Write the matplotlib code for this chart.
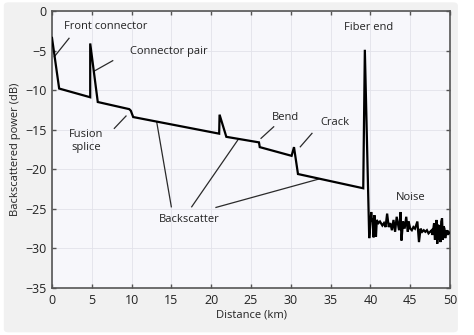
import matplotlib
matplotlib.use("Agg")
import matplotlib.pyplot as plt
from matplotlib.patches import FancyBboxPatch

plt.rcParams['font.family'] = ['Open Sans', 'DejaVu Sans']

# OTDR trace: distance (km) and backscattered power (dB)
trace_km = [0.0, 0.9, 4.8, 4.8, 5.75, 9.7, 9.9, 10.2, 21.0, 21.05, 21.9,
            26.0, 26.1, 30.1, 30.4, 30.9, 39.1, 39.3, 39.85]
trace_db = [-3.4, -9.8, -10.9, -4.1, -11.5, -12.4, -12.6, -13.4, -15.5, -13.1, -15.9,
            -16.6, -17.2, -18.3, -17.2, -20.6, -22.4, -4.9, -28.7]

# noise floor after the fiber end
noise_km = [40.0, 40.1, 40.2, 40.3, 40.4, 40.5, 40.6, 40.7, 40.8, 41.0, 41.2,
            41.5, 41.7, 41.9, 42.1, 42.3, 42.5, 42.7, 42.9, 43.1, 43.3, 43.6,
            43.8, 43.9, 44.1, 44.3, 44.5, 44.7, 44.8, 45.0, 45.2, 45.4, 45.6,
            45.9, 46.1, 46.3, 46.5, 46.7, 46.9, 47.1, 47.3, 47.5, 47.7, 47.8,
            48.0, 48.1, 48.2, 48.3, 48.4, 48.5, 48.6, 48.7, 48.8, 48.9, 49.0,
            49.1, 49.2, 49.3, 49.4, 49.5, 49.6, 49.7, 49.8, 50.0]
noise_db = [-27.0, -25.4, -26.6, -26.2, -28.6, -25.8, -27.0, -28.5, -26.4, -26.8, -26.6,
            -27.1, -26.8, -27.3, -25.6, -27.3, -26.8, -27.7, -26.4, -27.9, -26.0, -27.7,
            -25.4, -29.0, -26.6, -27.5, -26.0, -27.9, -26.6, -27.5, -27.7, -27.3, -27.5,
            -26.6, -29.2, -27.5, -27.9, -27.7, -27.9, -27.7, -28.1, -27.9, -27.7, -28.3,
            -26.8, -28.9, -28.5, -26.4, -29.4, -27.0, -28.9, -27.1, -29.2, -26.6, -26.2,
            -28.9, -27.2, -27.5, -28.7, -28.0, -27.7, -28.3, -27.9, -28.1]

# callout labels: text, position (km, dB), alignment
labels = ["Front connector", "Connector pair", "Fusion\nsplice", "Bend", "Crack",
          "Fiber end", "Noise", "Backscatter"]
label_km = [1.5, 9.8, 4.3, 29.3, 35.5, 39.8, 45.0, 17.25]
label_db = [-1.9, -5.15, -16.45, -13.4, -14.1, -2.1, -23.6, -26.4]
label_ha = ["left", "left", "center", "center", "center", "center", "center", "center"]

# leader lines from labels to features: (x0, y0, x1, y1)
leaders = [
    (2.14, -3.45, 0.29, -5.78),
    (7.63, -6.28, 5.31, -7.59),
    (7.83, -14.83, 9.30, -13.27),
    (27.85, -14.63, 26.26, -16.09),
    (32.66, -15.46, 31.19, -17.16),
    (13.15, -14.0, 14.99, -24.74),
    (17.55, -24.74, 23.40, -16.22),
    (20.60, -24.82, 33.5, -21.24),
]

x_ticks = list(range(0, 51, 5))
y_ticks = list(range(-35, 1, 5))

fig = plt.figure(figsize=(4.74, 3.35), dpi=100, facecolor='white')
panel = FancyBboxPatch((0.008, 0.008), 0.958, 0.985,
                       boxstyle="round,pad=0,rounding_size=0.01",
                       transform=fig.transFigure, facecolor='#f1f1f1',
                       edgecolor='none', zorder=-10)
fig.patches.append(panel)

ax = fig.add_axes([0.1097, 0.1403, 0.8397, 0.8269])
ax.set_facecolor('#f7f7fb')

ax.plot(trace_km + noise_km, trace_db + noise_db, color='black', lw=1.6,
        solid_joinstyle='miter', zorder=3)

for (x0, y0, x1, y1) in leaders:
    ax.plot([x0, x1], [y0, y1], color='#2a2a2a', lw=0.9, zorder=2)

for t, x, y, ha in zip(labels, label_km, label_db, label_ha):
    ax.text(x, y, t, ha=ha, va='center', fontsize=8, color='#222222',
            linespacing=1.2, zorder=4)

ax.set_xlim(0, 50)
ax.set_ylim(-35, 0)
ax.set_xticks(x_ticks)
ax.set_yticks(y_ticks)
ax.grid(True, color='#e2e2ea', lw=0.6)
ax.set_axisbelow(True)
ax.tick_params(direction='in', length=3, width=1.0, color='#555555',
               labelsize=9, labelcolor='#222222', top=True, right=True,
               labeltop=False, labelright=False)
ax.tick_params(axis='x', pad=4)
ax.tick_params(axis='y', pad=4)
for s in ax.spines.values():
    s.set_color('#555555')
    s.set_linewidth(1.2)

ax.set_xlabel('Distance (km)', fontsize=8, color='#222222', labelpad=2)
ax.set_ylabel('Backscattered power (dB)', fontsize=8, color='#222222', labelpad=3)

fig.savefig('out.png', dpi=100, facecolor=fig.get_facecolor())
